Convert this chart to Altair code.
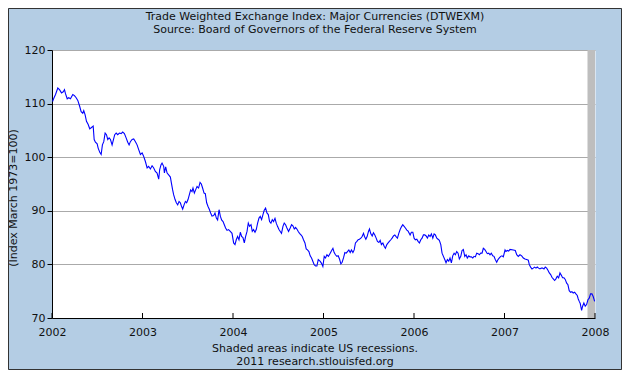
import altair as alt
import pandas as pd

# ---- data (decimal year, index value) ----
years = [
    2002.006, 2002.020, 2002.039, 2002.064, 2002.083, 2002.105, 2002.124, 2002.138, 2002.149, 2002.168,
    2002.185, 2002.204, 2002.230, 2002.248, 2002.267, 2002.285, 2002.304, 2002.322, 2002.340, 2002.351,
    2002.366, 2002.381, 2002.400, 2002.417, 2002.433, 2002.455, 2002.466, 2002.480, 2002.499, 2002.510,
    2002.528, 2002.543, 2002.557, 2002.572, 2002.587, 2002.602, 2002.616, 2002.631, 2002.646, 2002.664,
    2002.679, 2002.693, 2002.709, 2002.726, 2002.745, 2002.764, 2002.781, 2002.800, 2002.819, 2002.837,
    2002.852, 2002.866, 2002.885, 2002.903, 2002.922, 2002.940, 2002.958,
    2002.977, 2002.996, 2003.013, 2003.032, 2003.051, 2003.068, 2003.087, 2003.106, 2003.124, 2003.142,
    2003.161, 2003.179, 2003.190, 2003.205, 2003.216, 2003.234, 2003.242, 2003.256, 2003.272, 2003.289,
    2003.308, 2003.319, 2003.333, 2003.344, 2003.360, 2003.374, 2003.389, 2003.404, 2003.418, 2003.429,
    2003.444, 2003.459, 2003.474, 2003.488, 2003.503, 2003.518, 2003.532, 2003.547, 2003.558, 2003.573,
    2003.587, 2003.603, 2003.620, 2003.636, 2003.650, 2003.664, 2003.680, 2003.694, 2003.709, 2003.724,
    2003.738, 2003.753, 2003.768, 2003.786, 2003.801, 2003.816, 2003.830, 2003.846, 2003.860, 2003.874,
    2003.890, 2003.904, 2003.918, 2003.934, 2003.951,
    2003.970, 2003.989, 2004.007, 2004.022, 2004.036, 2004.051, 2004.066, 2004.081, 2004.095, 2004.110,
    2004.125, 2004.139, 2004.155, 2004.169, 2004.183, 2004.199, 2004.213, 2004.227, 2004.243, 2004.257,
    2004.272, 2004.287, 2004.301, 2004.316, 2004.331, 2004.345, 2004.360, 2004.375, 2004.390, 2004.404,
    2004.419, 2004.434, 2004.448, 2004.464, 2004.478, 2004.492, 2004.508, 2004.522, 2004.536, 2004.552,
    2004.566, 2004.581, 2004.596, 2004.614, 2004.632, 2004.647, 2004.662, 2004.677, 2004.691, 2004.706,
    2004.721, 2004.735, 2004.751, 2004.765, 2004.779, 2004.795, 2004.809, 2004.823, 2004.839, 2004.853,
    2004.868, 2004.883, 2004.897, 2004.912, 2004.927, 2004.942,
    2004.964, 2004.978, 2004.993, 2005.008, 2005.022, 2005.038, 2005.055, 2005.074, 2005.093, 2005.104,
    2005.118, 2005.132, 2005.148, 2005.162, 2005.177, 2005.192, 2005.206, 2005.221, 2005.236, 2005.251,
    2005.265, 2005.280, 2005.295, 2005.309, 2005.325, 2005.339, 2005.353, 2005.369, 2005.383, 2005.397,
    2005.413, 2005.427, 2005.442, 2005.453, 2005.468, 2005.482, 2005.497, 2005.508, 2005.523, 2005.538,
    2005.552, 2005.567, 2005.582, 2005.596, 2005.612, 2005.626, 2005.640, 2005.656, 2005.670, 2005.684,
    2005.700, 2005.714, 2005.728, 2005.744, 2005.758, 2005.773, 2005.788, 2005.802, 2005.817, 2005.832,
    2005.847, 2005.861, 2005.876, 2005.891, 2005.905, 2005.921, 2005.935,
    2005.957, 2005.971, 2005.987, 2006.001, 2006.015, 2006.031, 2006.045, 2006.060, 2006.075, 2006.089,
    2006.104, 2006.119, 2006.134, 2006.148, 2006.163, 2006.178, 2006.192, 2006.208, 2006.222, 2006.236,
    2006.252, 2006.266, 2006.280, 2006.296, 2006.310, 2006.325, 2006.340, 2006.354, 2006.369, 2006.384,
    2006.398, 2006.413, 2006.428, 2006.443, 2006.457, 2006.472, 2006.487, 2006.501, 2006.517, 2006.531,
    2006.545, 2006.561, 2006.575, 2006.589, 2006.605, 2006.619, 2006.634, 2006.649, 2006.663, 2006.678,
    2006.693, 2006.708, 2006.722, 2006.737, 2006.752, 2006.766, 2006.781, 2006.796, 2006.810, 2006.826,
    2006.840, 2006.854, 2006.870, 2006.884, 2006.898, 2006.914, 2006.928, 2006.943, 2006.958, 2006.972,
    2006.987,
    2007.006, 2007.016, 2007.031, 2007.046, 2007.061, 2007.097, 2007.119, 2007.135, 2007.152, 2007.171,
    2007.190, 2007.208, 2007.226, 2007.245, 2007.263, 2007.274, 2007.289, 2007.304, 2007.318, 2007.333,
    2007.348, 2007.362, 2007.377, 2007.392, 2007.406, 2007.422, 2007.436, 2007.450, 2007.466, 2007.480,
    2007.495, 2007.510, 2007.524, 2007.539, 2007.554, 2007.568, 2007.583, 2007.598, 2007.613, 2007.627,
    2007.642, 2007.657, 2007.671, 2007.687, 2007.701, 2007.715, 2007.731, 2007.745, 2007.759, 2007.775,
    2007.789, 2007.804, 2007.815, 2007.826, 2007.837, 2007.852, 2007.863, 2007.877, 2007.892, 2007.907,
    2007.922, 2007.936, 2007.951, 2007.966, 2007.980, 2007.996,
]

values = [
    110.4, 111.0, 111.7, 112.9, 112.6, 112.0, 112.2, 112.6, 111.85, 110.9,
    111.1, 110.9, 111.7, 111.5, 111.1, 110.6, 109.6, 108.5, 108.2, 108.7,
    107.9, 106.7, 106.1, 105.3, 105.5, 105.8, 103.3, 102.8, 102.5, 101.7,
    100.9, 100.5, 102.3, 102.9, 104.5, 104.2, 103.3, 103.6, 103.3, 102.3,
    103.3, 104.2, 104.5, 104.2, 104.5, 104.4, 104.7, 104.4, 103.6, 102.8,
    102.3, 102.9, 103.3, 103.4, 102.9, 102.3, 101.4,
    100.5, 100.8, 100.15, 99.2, 98.0, 98.3, 97.8, 98.4, 98.0, 97.35,
    97.05, 95.9, 97.7, 98.6, 98.9, 98.3, 97.05, 98.2, 97.05, 96.7,
    96.3, 95.2, 93.9, 93.0, 92.1, 91.5, 91.1, 91.75, 91.5, 90.95,
    90.3, 91.1, 91.75, 91.5, 92.1, 93.0, 93.9, 93.6, 94.25, 93.3,
    93.9, 94.55, 94.25, 95.3, 95.0, 94.25, 93.3, 93.2, 91.5, 90.8,
    90.3, 89.6, 89.0, 89.1, 89.6, 88.65, 88.3, 90.2, 89.0, 88.3,
    88.0, 87.4, 86.8, 86.35, 86.5,
    86.15, 85.8, 84.0, 83.7, 84.6, 85.2, 84.6, 86.0, 85.2, 85.0,
    84.0, 85.2, 86.15, 87.7, 87.1, 87.4, 86.15, 86.5, 86.0, 86.5,
    87.7, 88.65, 88.95, 88.35, 89.3, 90.1, 90.5, 89.6, 89.3, 88.0,
    87.7, 88.35, 88.0, 88.6, 87.7, 87.1, 86.5, 86.15, 85.8, 87.1,
    87.7, 87.4, 86.8, 86.15, 86.8, 87.4, 87.2, 86.6, 86.9, 86.6,
    86.15, 85.8, 85.5, 85.2, 84.6, 84.0, 82.9, 82.7, 82.4, 81.6,
    81.2, 80.55, 79.95, 79.7, 79.7, 80.9,
    80.55, 80.2, 79.6, 81.5, 81.2, 81.8, 81.5, 82.1, 82.7, 83.0,
    82.2, 81.8, 81.5, 81.6, 81.0, 80.1, 80.4, 81.2, 82.2, 82.1,
    82.4, 82.7, 82.2, 82.7, 82.2, 82.7, 84.0, 84.3, 84.6, 84.7,
    84.9, 85.2, 85.8, 85.2, 84.7, 85.2, 86.15, 86.6, 85.7, 85.3,
    85.9, 85.5, 84.9, 84.3, 84.1, 84.5, 83.7, 84.0, 83.4, 83.0,
    83.7, 84.0, 84.3, 84.6, 84.9, 85.3, 85.5, 85.2, 84.9, 85.8,
    86.5, 87.0, 87.4, 87.1, 86.8, 86.4, 86.2,
    85.5, 86.0, 86.0, 84.9, 84.6, 84.7, 84.3, 84.0, 84.6, 84.9,
    85.5, 85.5, 85.3, 84.9, 85.5, 85.2, 85.7, 84.9, 85.7, 85.5,
    84.9, 84.7, 84.5, 83.7, 82.1, 81.5, 80.9, 80.3, 80.9, 80.6,
    81.2, 80.3, 81.6, 82.1, 81.8, 82.4, 82.1, 81.0, 81.5, 82.6,
    82.8, 81.5, 81.8, 81.2, 81.6, 81.4, 81.4, 81.2, 81.5, 81.4,
    82.1, 82.0, 81.8, 82.1, 82.1, 83.0, 82.8, 82.4, 82.0, 82.1,
    81.8, 82.1, 81.6, 81.5, 80.9, 80.4, 80.9, 81.2, 81.5, 81.6,
    81.4,
    82.7, 82.4, 82.6, 82.5, 82.8, 82.7, 82.6, 81.8, 81.5, 81.8,
    81.6, 81.2, 81.0, 80.9, 80.8, 79.95, 79.5, 79.15, 79.3, 79.5,
    79.3, 79.5, 79.3, 79.15, 79.3, 79.3, 79.15, 79.5, 79.3, 78.9,
    78.4, 78.1, 77.6, 77.3, 77.0, 77.3, 77.8, 77.5, 78.4, 78.0,
    77.5, 77.5, 77.2, 76.5, 76.2, 75.1, 74.8, 74.9, 74.65, 74.8,
    74.5, 74.2, 73.55, 73.1, 72.7, 71.4, 72.2, 72.8, 72.2, 72.5,
    73.4, 73.7, 74.5, 74.5, 74.0, 73.1,
]

x_ticks = [2002, 2003, 2004, 2005, 2006, 2007, 2008]
y_ticks = [70, 80, 90, 100, 110, 120]
rec_start = [2007.917]
rec_end = [2008.0]

title_lines = [
    "Trade Weighted Exchange Index: Major Currencies (DTWEXM)",
    "Source: Board of Governors of the Federal Reserve System",
]
footer_lines = [
    "Shaded areas indicate US recessions.",
    "2011 research.stlouisfed.org",
]
y_title = "(Index March 1973=100)"

FONT = "DejaVu Sans"
W, H = 543, 268

df = pd.DataFrame({"t": years, "v": values})
xscale = alt.Scale(domain=[2002, 2008], nice=False, zero=False)
yscale = alt.Scale(domain=[70, 120], nice=False, zero=False)

x_axis = alt.Axis(
    values=x_ticks, format="d", title=None, ticks=False, grid=False,
    domainColor="#000000", domainWidth=1, labelFont=FONT, labelFontSize=11,
    labelColor="#111111", labelPadding=8, labelFlush=False, zindex=1,
)
y_axis = alt.Axis(
    values=y_ticks, title=None, grid=True, gridColor="#aaaaaa", gridWidth=1,
    domainColor="#000000", tickColor="#000000", tickSize=5, labelPadding=2,
    labelFont=FONT, labelFontSize=11, labelColor="#111111",
)

rec = alt.Chart(pd.DataFrame({"s": rec_start, "e": rec_end})).mark_rect(
    color="#bebebe"
).encode(
    x=alt.X("s:Q", scale=xscale, axis=x_axis),
    x2="e:Q",
    y=alt.value(0),
    y2=alt.value(H),
)

line = alt.Chart(df).mark_line(color="#0000ff", strokeWidth=1.1).encode(
    x=alt.X("t:Q", scale=xscale, axis=x_axis),
    y=alt.Y("v:Q", scale=yscale, axis=y_axis),
)

ticks = alt.Chart(pd.DataFrame({"t": x_ticks})).mark_rule(color="#000000").encode(
    x=alt.X("t:Q", scale=xscale, axis=x_axis),
    y=alt.value(H - 5),
    y2=alt.value(H),
)

title = alt.Chart(pd.DataFrame({"txt": title_lines, "yy": [-33, -20]})).mark_text(
    font=FONT, fontSize=11, color="#111111", baseline="middle", align="center"
).encode(text="txt:N", x=alt.value(263), y=alt.Y("yy:Q", scale=None))

footer = alt.Chart(pd.DataFrame({"txt": footer_lines, "yy": [299, 312]})).mark_text(
    font=FONT, fontSize=11, color="#111111", baseline="middle", align="center"
).encode(text="txt:N", x=alt.value(263), y=alt.Y("yy:Q", scale=None))

ytitle = alt.Chart(pd.DataFrame({"txt": [y_title]})).mark_text(
    font=FONT, fontSize=11, color="#111111", baseline="middle", align="center", angle=270
).encode(text="txt:N", x=alt.value(-38), y=alt.value(148))

frame = alt.Chart(pd.DataFrame({"a": [0]})).mark_rect(
    filled=False, stroke="#333333", strokeWidth=1
).encode(
    x=alt.value(-43.5), x2=alt.value(569.5), y=alt.value(-41.5), y2=alt.value(319.5)
)

chart = alt.layer(rec, line, ticks, title, footer, ytitle, frame).properties(
    width=W,
    height=H,
    autosize=alt.AutoSizeParams(type="none"),
    padding={"left": 44, "top": 42, "right": 27, "bottom": 52},
    background="#b4cde4",
).configure_view(fill="#ffffff", stroke="transparent")

chart.save("out.html", embed_options={"renderer": "svg", "actions": False})
